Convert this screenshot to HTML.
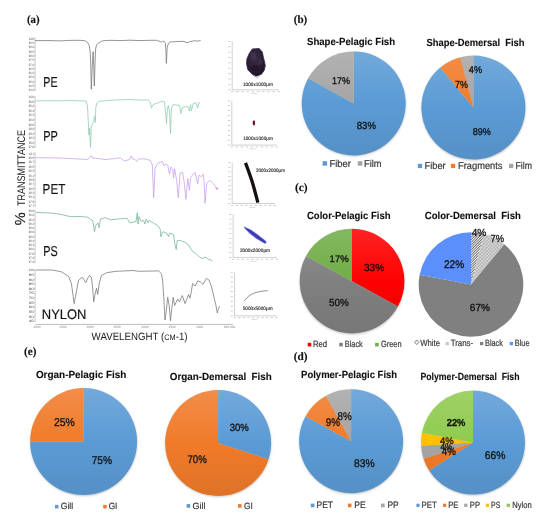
<!DOCTYPE html>
<html><head><meta charset="utf-8"><title>Microplastics figure</title>
<style>html,body{margin:0;padding:0;background:#fff;} svg{display:block;filter:blur(0.5px);text-rendering:geometricPrecision;}</style>
</head><body>
<svg width="550" height="521" viewBox="0 0 550 521"><defs>
<filter id="sh" x="-10%" y="-10%" width="120%" height="120%"><feGaussianBlur stdDeviation="0.8"/></filter>
<linearGradient id="shade" x1="0" y1="0" x2="0" y2="1">
  <stop offset="0" stop-color="#fff" stop-opacity="0.10"/>
  <stop offset="0.5" stop-color="#fff" stop-opacity="0.0"/>
  <stop offset="0.85" stop-color="#000" stop-opacity="0.03"/>
  <stop offset="1" stop-color="#000" stop-opacity="0.09"/>
</linearGradient>
<pattern id="hatch" patternUnits="userSpaceOnUse" width="1.8" height="1.8" patternTransform="rotate(45)">
  <rect width="1.8" height="1.8" fill="#f6f6f6"/>
  <rect width="0.6" height="1.8" fill="#2a2a2a"/>
</pattern>
<pattern id="dots" patternUnits="userSpaceOnUse" width="3.4" height="3.4">
  <rect width="3.4" height="3.4" fill="#b6b6b6"/>
  <circle cx="0.85" cy="0.85" r="0.7" fill="#ffffff"/>
  <circle cx="2.55" cy="2.55" r="0.7" fill="#ffffff"/>
</pattern>
<linearGradient id="g1" gradientUnits="userSpaceOnUse" x1="0" y1="51.400000000000006" x2="0" y2="155.4"><stop offset="0" stop-color="#72a9db"/><stop offset="0.5" stop-color="#5b9bd5"/><stop offset="1" stop-color="#5590c6"/></linearGradient><linearGradient id="g2" gradientUnits="userSpaceOnUse" x1="0" y1="51.400000000000006" x2="0" y2="155.4"><stop offset="0" stop-color="#b2b2b2"/><stop offset="0.5" stop-color="#a5a5a5"/><stop offset="1" stop-color="#999999"/></linearGradient><linearGradient id="g3" gradientUnits="userSpaceOnUse" x1="0" y1="55.5" x2="0" y2="159.5"><stop offset="0" stop-color="#72a9db"/><stop offset="0.5" stop-color="#5b9bd5"/><stop offset="1" stop-color="#5590c6"/></linearGradient><linearGradient id="g4" gradientUnits="userSpaceOnUse" x1="0" y1="55.5" x2="0" y2="159.5"><stop offset="0" stop-color="#f28d48"/><stop offset="0.5" stop-color="#f07b2a"/><stop offset="1" stop-color="#df7227"/></linearGradient><linearGradient id="g5" gradientUnits="userSpaceOnUse" x1="0" y1="55.5" x2="0" y2="159.5"><stop offset="0" stop-color="#b2b2b2"/><stop offset="0.5" stop-color="#a5a5a5"/><stop offset="1" stop-color="#999999"/></linearGradient><linearGradient id="g6" gradientUnits="userSpaceOnUse" x1="0" y1="228.79999999999998" x2="0" y2="333.59999999999997"><stop offset="0" stop-color="#ff2424"/><stop offset="0.5" stop-color="#ff0000"/><stop offset="1" stop-color="#ed0000"/></linearGradient><linearGradient id="g7" gradientUnits="userSpaceOnUse" x1="0" y1="228.79999999999998" x2="0" y2="333.59999999999997"><stop offset="0" stop-color="#929292"/><stop offset="0.5" stop-color="#808080"/><stop offset="1" stop-color="#777777"/></linearGradient><linearGradient id="g8" gradientUnits="userSpaceOnUse" x1="0" y1="228.79999999999998" x2="0" y2="333.59999999999997"><stop offset="0" stop-color="#84b861"/><stop offset="0.5" stop-color="#70ad47"/><stop offset="1" stop-color="#68a142"/></linearGradient><linearGradient id="g9" gradientUnits="userSpaceOnUse" x1="0" y1="388.1" x2="0" y2="495.1"><stop offset="0" stop-color="#72a9db"/><stop offset="0.5" stop-color="#5b9bd5"/><stop offset="1" stop-color="#5590c6"/></linearGradient><linearGradient id="g10" gradientUnits="userSpaceOnUse" x1="0" y1="388.1" x2="0" y2="495.1"><stop offset="0" stop-color="#f28d48"/><stop offset="0.5" stop-color="#f07b2a"/><stop offset="1" stop-color="#df7227"/></linearGradient><linearGradient id="g11" gradientUnits="userSpaceOnUse" x1="0" y1="390" x2="0" y2="496"><stop offset="0" stop-color="#72a9db"/><stop offset="0.5" stop-color="#5b9bd5"/><stop offset="1" stop-color="#5590c6"/></linearGradient><linearGradient id="g12" gradientUnits="userSpaceOnUse" x1="0" y1="390" x2="0" y2="496"><stop offset="0" stop-color="#f28d48"/><stop offset="0.5" stop-color="#f07b2a"/><stop offset="1" stop-color="#df7227"/></linearGradient><linearGradient id="g13" gradientUnits="userSpaceOnUse" x1="0" y1="389.2" x2="0" y2="493.2"><stop offset="0" stop-color="#72a9db"/><stop offset="0.5" stop-color="#5b9bd5"/><stop offset="1" stop-color="#5590c6"/></linearGradient><linearGradient id="g14" gradientUnits="userSpaceOnUse" x1="0" y1="389.2" x2="0" y2="493.2"><stop offset="0" stop-color="#f28d48"/><stop offset="0.5" stop-color="#f07b2a"/><stop offset="1" stop-color="#df7227"/></linearGradient><linearGradient id="g15" gradientUnits="userSpaceOnUse" x1="0" y1="389.2" x2="0" y2="493.2"><stop offset="0" stop-color="#b2b2b2"/><stop offset="0.5" stop-color="#a5a5a5"/><stop offset="1" stop-color="#999999"/></linearGradient><linearGradient id="g16" gradientUnits="userSpaceOnUse" x1="0" y1="390.6" x2="0" y2="494.6"><stop offset="0" stop-color="#72a9db"/><stop offset="0.5" stop-color="#5b9bd5"/><stop offset="1" stop-color="#5590c6"/></linearGradient><linearGradient id="g17" gradientUnits="userSpaceOnUse" x1="0" y1="390.6" x2="0" y2="494.6"><stop offset="0" stop-color="#f28d48"/><stop offset="0.5" stop-color="#f07b2a"/><stop offset="1" stop-color="#df7227"/></linearGradient><linearGradient id="g18" gradientUnits="userSpaceOnUse" x1="0" y1="390.6" x2="0" y2="494.6"><stop offset="0" stop-color="#b2b2b2"/><stop offset="0.5" stop-color="#a5a5a5"/><stop offset="1" stop-color="#999999"/></linearGradient><linearGradient id="g19" gradientUnits="userSpaceOnUse" x1="0" y1="390.6" x2="0" y2="494.6"><stop offset="0" stop-color="#ffc924"/><stop offset="0.5" stop-color="#ffc000"/><stop offset="1" stop-color="#edb300"/></linearGradient><linearGradient id="g20" gradientUnits="userSpaceOnUse" x1="0" y1="390.6" x2="0" y2="494.6"><stop offset="0" stop-color="#9fd267"/><stop offset="0.5" stop-color="#8fcb4e"/><stop offset="1" stop-color="#85bd49"/></linearGradient><radialGradient id="blob" cx="0.45" cy="0.35" r="0.7"><stop offset="0" stop-color="#3c2c48"/><stop offset="0.6" stop-color="#2a1d33"/><stop offset="1" stop-color="#1b1120"/></radialGradient></defs><rect width="550" height="521" fill="#fff"/><text x="26.9" y="22.8" font-family='"Liberation Serif", serif' font-size="11.3" font-weight="bold" fill="#111" text-anchor="start" textLength="12.7" lengthAdjust="spacingAndGlyphs" stroke="#111" stroke-width="0.15" >(a)</text>
<text x="293.8" y="23.2" font-family='"Liberation Serif", serif' font-size="11.3" font-weight="bold" fill="#111" text-anchor="start" textLength="13.5" lengthAdjust="spacingAndGlyphs" stroke="#111" stroke-width="0.15" >(b)</text>
<text x="294.9" y="190.5" font-family='"Liberation Serif", serif' font-size="11.3" font-weight="bold" fill="#111" text-anchor="start" textLength="12.7" lengthAdjust="spacingAndGlyphs" stroke="#111" stroke-width="0.15" >(c)</text>
<text x="24.0" y="355.1" font-family='"Liberation Serif", serif' font-size="11.3" font-weight="bold" fill="#111" text-anchor="start" textLength="12.4" lengthAdjust="spacingAndGlyphs" stroke="#111" stroke-width="0.15" >(e)</text>
<text x="293.8" y="359.9" font-family='"Liberation Serif", serif' font-size="11.3" font-weight="bold" fill="#111" text-anchor="start" textLength="13.7" lengthAdjust="spacingAndGlyphs" stroke="#111" stroke-width="0.15" >(d)</text>
<text x="307" y="45.1" font-family='"Liberation Sans", sans-serif' font-size="10.3" font-weight="bold" fill="#0e0e0e" text-anchor="start" textLength="88" lengthAdjust="spacingAndGlyphs" stroke="#0e0e0e" stroke-width="0.1" >Shape-Pelagic Fish</text>
<circle cx="353.9" cy="104.30000000000001" r="52" fill="#000" opacity="0.22" filter="url(#sh)"/>
<path d="M353.70,103.40 L353.70,51.40 A52,52 0 1 1 308.13,78.35 Z" fill="url(#g1)"/>
<path d="M353.70,103.40 L308.13,78.35 A52,52 0 0 1 353.70,51.40 Z" fill="url(#g2)"/>
<text x="426.5" y="46.2" font-family='"Liberation Sans", sans-serif' font-size="10.3" font-weight="bold" fill="#0e0e0e" text-anchor="start" textLength="98" lengthAdjust="spacingAndGlyphs" stroke="#0e0e0e" stroke-width="0.1" >Shape-Demersal&#160; Fish</text>
<circle cx="473.59999999999997" cy="108.4" r="52" fill="#000" opacity="0.22" filter="url(#sh)"/>
<path d="M473.40,107.50 L473.40,55.50 A52,52 0 1 1 440.25,67.43 Z" fill="url(#g3)"/>
<path d="M473.40,107.50 L440.25,67.43 A52,52 0 0 1 460.47,57.13 Z" fill="url(#g4)"/>
<path d="M473.40,107.50 L460.47,57.13 A52,52 0 0 1 473.40,55.50 Z" fill="url(#g5)"/>
<text x="307" y="219.0" font-family='"Liberation Sans", sans-serif' font-size="10.3" font-weight="bold" fill="#0e0e0e" text-anchor="start" textLength="83.5" lengthAdjust="spacingAndGlyphs" stroke="#0e0e0e" stroke-width="0.1" >Color-Pelagic Fish</text>
<circle cx="352.2" cy="282.09999999999997" r="52.4" fill="#000" opacity="0.22" filter="url(#sh)"/>
<path d="M352.00,281.20 L352.00,228.80 A52.4,52.4 0 0 1 397.92,306.44 Z" fill="url(#g6)"/>
<path d="M352.00,281.20 L397.92,306.44 A52.4,52.4 0 0 1 306.08,255.96 Z" fill="url(#g7)"/>
<path d="M352.00,281.20 L306.08,255.96 A52.4,52.4 0 0 1 352.00,228.80 Z" fill="url(#g8)"/>
<text x="424.8" y="219.0" font-family='"Liberation Sans", sans-serif' font-size="10.3" font-weight="bold" fill="#0e0e0e" text-anchor="start" textLength="96" lengthAdjust="spacingAndGlyphs" stroke="#0e0e0e" stroke-width="0.1" >Color-Demersal&#160; Fish</text>
<path d="M471.00,284.50 L471.00,232.20 A52.3,52.3 0 0 1 484.01,233.84 Z" fill="url(#hatch)"/>
<path d="M471.00,284.50 L484.01,233.84 A52.3,52.3 0 0 1 504.34,244.20 Z" fill="url(#dots)"/>
<path d="M471.00,284.50 L504.34,244.20 A52.3,52.3 0 1 1 419.63,274.70 Z" fill="#808080"/>
<path d="M471.00,284.50 L419.63,274.70 A52.3,52.3 0 0 1 471.00,232.20 Z" fill="#5b8ffb"/>
<text x="35.9" y="377.9" font-family='"Liberation Sans", sans-serif' font-size="10.3" font-weight="bold" fill="#0e0e0e" text-anchor="start" textLength="90.5" lengthAdjust="spacingAndGlyphs" stroke="#0e0e0e" stroke-width="0.1" >Organ-Pelagic Fish</text>
<circle cx="83.8" cy="442.5" r="53.5" fill="#000" opacity="0.22" filter="url(#sh)"/>
<path d="M83.60,441.60 L83.60,388.10 A53.5,53.5 0 1 1 30.10,441.60 Z" fill="url(#g9)"/>
<path d="M83.60,441.60 L30.10,441.60 A53.5,53.5 0 0 1 83.60,388.10 Z" fill="url(#g10)"/>
<text x="169.8" y="379.6" font-family='"Liberation Sans", sans-serif' font-size="10.3" font-weight="bold" fill="#0e0e0e" text-anchor="start" textLength="102" lengthAdjust="spacingAndGlyphs" stroke="#0e0e0e" stroke-width="0.1" >Organ-Demersal&#160; Fish</text>
<circle cx="218.29999999999998" cy="443.9" r="53" fill="#000" opacity="0.22" filter="url(#sh)"/>
<path d="M218.10,443.00 L218.10,390.00 A53,53 0 0 1 268.51,459.38 Z" fill="url(#g11)"/>
<path d="M218.10,443.00 L268.51,459.38 A53,53 0 1 1 218.10,390.00 Z" fill="url(#g12)"/>
<text x="301.1" y="378.3" font-family='"Liberation Sans", sans-serif' font-size="10.3" font-weight="bold" fill="#0e0e0e" text-anchor="start" textLength="96" lengthAdjust="spacingAndGlyphs" stroke="#0e0e0e" stroke-width="0.1" >Polymer-Pelagic Fish</text>
<circle cx="351.3" cy="442.09999999999997" r="52" fill="#000" opacity="0.22" filter="url(#sh)"/>
<path d="M351.10,441.20 L351.10,389.20 A52,52 0 1 1 305.53,416.15 Z" fill="url(#g13)"/>
<path d="M351.10,441.20 L305.53,416.15 A52,52 0 0 1 326.05,395.63 Z" fill="url(#g14)"/>
<path d="M351.10,441.20 L326.05,395.63 A52,52 0 0 1 351.10,389.20 Z" fill="url(#g15)"/>
<text x="420.5" y="379.6" font-family='"Liberation Sans", sans-serif' font-size="10.3" font-weight="bold" fill="#0e0e0e" text-anchor="start" textLength="99" lengthAdjust="spacingAndGlyphs" stroke="#0e0e0e" stroke-width="0.1" >Polymer-Demersal&#160; Fish</text>
<circle cx="473.2" cy="443.5" r="52" fill="#000" opacity="0.22" filter="url(#sh)"/>
<path d="M473.00,442.60 L473.00,390.60 A52,52 0 1 1 429.09,470.46 Z" fill="url(#g16)"/>
<path d="M473.00,442.60 L429.09,470.46 A52,52 0 0 1 423.55,458.67 Z" fill="url(#g17)"/>
<path d="M473.00,442.60 L423.55,458.67 A52,52 0 0 1 421.10,445.87 Z" fill="url(#g18)"/>
<path d="M473.00,442.60 L421.10,445.87 A52,52 0 0 1 421.92,432.86 Z" fill="url(#g19)"/>
<path d="M473.00,442.60 L421.92,432.86 A52,52 0 0 1 473.00,390.60 Z" fill="url(#g20)"/>
<text x="331.9" y="84.2" font-family='"Liberation Sans", sans-serif' font-size="9.73" font-weight="normal" fill="#121212" text-anchor="start" textLength="18.0" lengthAdjust="spacingAndGlyphs" stroke="#121212" stroke-width="0.3" >17%</text>
<text x="356.8" y="129.0" font-family='"Liberation Sans", sans-serif' font-size="10.27" font-weight="normal" fill="#121212" text-anchor="start" textLength="19.1" lengthAdjust="spacingAndGlyphs" stroke="#121212" stroke-width="0.3" >83%</text>
<text x="468.8" y="73.2" font-family='"Liberation Sans", sans-serif' font-size="10.0" font-weight="normal" fill="#121212" text-anchor="start" textLength="13.3" lengthAdjust="spacingAndGlyphs" stroke="#121212" stroke-width="0.3" >4%</text>
<text x="455.0" y="88.1" font-family='"Liberation Sans", sans-serif' font-size="10.27" font-weight="normal" fill="#121212" text-anchor="start" textLength="12.9" lengthAdjust="spacingAndGlyphs" stroke="#121212" stroke-width="0.3" >7%</text>
<text x="472.8" y="135.2" font-family='"Liberation Sans", sans-serif' font-size="9.86" font-weight="normal" fill="#121212" text-anchor="start" textLength="18.1" lengthAdjust="spacingAndGlyphs" stroke="#121212" stroke-width="0.3" >89%</text>
<text x="329.6" y="261.5" font-family='"Liberation Sans", sans-serif' font-size="9.59" font-weight="normal" fill="#121212" text-anchor="start" textLength="19.1" lengthAdjust="spacingAndGlyphs" stroke="#121212" stroke-width="0.3" >17%</text>
<text x="363.9" y="271.0" font-family='"Liberation Sans", sans-serif' font-size="10.27" font-weight="normal" fill="#200000" text-anchor="start" textLength="20.3" lengthAdjust="spacingAndGlyphs" stroke="#200000" stroke-width="0.3" >33%</text>
<text x="329.0" y="306.4" font-family='"Liberation Sans", sans-serif' font-size="10.27" font-weight="normal" fill="#121212" text-anchor="start" textLength="19.8" lengthAdjust="spacingAndGlyphs" stroke="#121212" stroke-width="0.3" >50%</text>
<text x="471.7" y="235.8" font-family='"Liberation Sans", sans-serif' font-size="10.27" font-weight="normal" fill="#121212" text-anchor="start" textLength="14.7" lengthAdjust="spacingAndGlyphs" stroke="#121212" stroke-width="0.3" >4%</text>
<text x="490.5" y="242.3" font-family='"Liberation Sans", sans-serif' font-size="10.27" font-weight="normal" fill="#121212" text-anchor="start" textLength="13.6" lengthAdjust="spacingAndGlyphs" stroke="#121212" stroke-width="0.3" >7%</text>
<text x="444.0" y="267.5" font-family='"Liberation Sans", sans-serif' font-size="11.1" font-weight="normal" fill="#121212" text-anchor="start" textLength="20.1" lengthAdjust="spacingAndGlyphs" stroke="#121212" stroke-width="0.3" >22%</text>
<text x="469.8" y="311.4" font-family='"Liberation Sans", sans-serif' font-size="10.27" font-weight="normal" fill="#121212" text-anchor="start" textLength="20.1" lengthAdjust="spacingAndGlyphs" stroke="#121212" stroke-width="0.3" >67%</text>
<text x="54.0" y="426.2" font-family='"Liberation Sans", sans-serif' font-size="11.37" font-weight="normal" fill="#121212" text-anchor="start" textLength="20.9" lengthAdjust="spacingAndGlyphs" stroke="#121212" stroke-width="0.3" >25%</text>
<text x="91.7" y="463.7" font-family='"Liberation Sans", sans-serif' font-size="11.37" font-weight="normal" fill="#121212" text-anchor="start" textLength="20.4" lengthAdjust="spacingAndGlyphs" stroke="#121212" stroke-width="0.3" >75%</text>
<text x="229.7" y="430.7" font-family='"Liberation Sans", sans-serif' font-size="10.41" font-weight="normal" fill="#121212" text-anchor="start" textLength="19.1" lengthAdjust="spacingAndGlyphs" stroke="#121212" stroke-width="0.3" >30%</text>
<text x="187.5" y="462.5" font-family='"Liberation Sans", sans-serif' font-size="11.1" font-weight="normal" fill="#121212" text-anchor="start" textLength="19.3" lengthAdjust="spacingAndGlyphs" stroke="#121212" stroke-width="0.3" >70%</text>
<text x="337.5" y="419.5" font-family='"Liberation Sans", sans-serif' font-size="11.23" font-weight="normal" fill="#121212" text-anchor="start" textLength="14.2" lengthAdjust="spacingAndGlyphs" stroke="#121212" stroke-width="0.3" >8%</text>
<text x="325.7" y="425.8" font-family='"Liberation Sans", sans-serif' font-size="11.1" font-weight="normal" fill="#121212" text-anchor="start" textLength="14.2" lengthAdjust="spacingAndGlyphs" stroke="#121212" stroke-width="0.3" >9%</text>
<text x="354.0" y="466.8" font-family='"Liberation Sans", sans-serif' font-size="11.23" font-weight="normal" fill="#121212" text-anchor="start" textLength="20.6" lengthAdjust="spacingAndGlyphs" stroke="#121212" stroke-width="0.3" >83%</text>
<text x="446.7" y="426.1" font-family='"Liberation Sans", sans-serif' font-size="10.14" font-weight="bold" fill="#111" text-anchor="start" textLength="18.7" lengthAdjust="spacingAndGlyphs" stroke="#111" stroke-width="0.3" >22%</text>
<text x="440.0" y="443.7" font-family='"Liberation Sans", sans-serif' font-size="9.59" font-weight="normal" fill="#121212" text-anchor="start" textLength="13.7" lengthAdjust="spacingAndGlyphs" stroke="#121212" stroke-width="0.3" >4%</text>
<text x="440.4" y="449.6" font-family='"Liberation Sans", sans-serif' font-size="9.59" font-weight="normal" fill="#121212" text-anchor="start" textLength="11.9" lengthAdjust="spacingAndGlyphs" stroke="#121212" stroke-width="0.3" >4%</text>
<text x="441.8" y="455.4" font-family='"Liberation Sans", sans-serif' font-size="10.68" font-weight="normal" fill="#121212" text-anchor="start" textLength="14.1" lengthAdjust="spacingAndGlyphs" stroke="#121212" stroke-width="0.3" >4%</text>
<text x="484.8" y="458.8" font-family='"Liberation Sans", sans-serif' font-size="11.1" font-weight="normal" fill="#121212" text-anchor="start" textLength="20.7" lengthAdjust="spacingAndGlyphs" stroke="#121212" stroke-width="0.3" >66%</text>
<rect x="322.6" y="161.2" width="4.5" height="4.5" fill="#5b9bd5"/>
<text x="329.5" y="166.5" font-family='"Liberation Sans", sans-serif' font-size="10" font-weight="normal" fill="#383838" text-anchor="start" textLength="21.5" lengthAdjust="spacingAndGlyphs" stroke="#383838" stroke-width="0.2" >Fiber</text>
<rect x="357.8" y="161.2" width="4.5" height="4.5" fill="#a5a5a5"/>
<text x="364" y="166.5" font-family='"Liberation Sans", sans-serif' font-size="10" font-weight="normal" fill="#383838" text-anchor="start" textLength="17.5" lengthAdjust="spacingAndGlyphs" stroke="#383838" stroke-width="0.2" >Film</text>
<rect x="417.8" y="163.79999999999998" width="4.3" height="4.3" fill="#5b9bd5"/>
<text x="424.5" y="168.9" font-family='"Liberation Sans", sans-serif' font-size="10" font-weight="normal" fill="#383838" text-anchor="start" textLength="21.2" lengthAdjust="spacingAndGlyphs" stroke="#383838" stroke-width="0.2" >Fiber</text>
<rect x="450.9" y="163.79999999999998" width="4.3" height="4.3" fill="#f07b2a"/>
<text x="458" y="168.9" font-family='"Liberation Sans", sans-serif' font-size="10" font-weight="normal" fill="#383838" text-anchor="start" textLength="44.5" lengthAdjust="spacingAndGlyphs" stroke="#383838" stroke-width="0.2" >Fragments</text>
<rect x="509" y="163.79999999999998" width="4.3" height="4.3" fill="#a5a5a5"/>
<text x="515.5" y="168.9" font-family='"Liberation Sans", sans-serif' font-size="10" font-weight="normal" fill="#383838" text-anchor="start" textLength="16.5" lengthAdjust="spacingAndGlyphs" stroke="#383838" stroke-width="0.2" >Film</text>
<rect x="307.7" y="342.79999999999995" width="3.6" height="3.6" fill="#ff0000"/>
<text x="312.9" y="347.2" font-family='"Liberation Sans", sans-serif' font-size="9" font-weight="normal" fill="#383838" text-anchor="start" textLength="14.2" lengthAdjust="spacingAndGlyphs" stroke="#383838" stroke-width="0.2" >Red</text>
<rect x="339.2" y="342.79999999999995" width="3.6" height="3.6" fill="#808080"/>
<text x="344.8" y="347.2" font-family='"Liberation Sans", sans-serif' font-size="9" font-weight="normal" fill="#383838" text-anchor="start" textLength="18" lengthAdjust="spacingAndGlyphs" stroke="#383838" stroke-width="0.2" >Black</text>
<rect x="375.1" y="342.79999999999995" width="3.6" height="3.6" fill="#70ad47"/>
<text x="381" y="347.2" font-family='"Liberation Sans", sans-serif' font-size="9" font-weight="normal" fill="#383838" text-anchor="start" textLength="20.6" lengthAdjust="spacingAndGlyphs" stroke="#383838" stroke-width="0.2" >Green</text>
<path d="M416.8,340.0 l2.3,2.3 l-2.3,2.3 l-2.3,-2.3 z" fill="#eee" stroke="#555" stroke-width="0.7"/>
<text x="420.2" y="346.0" font-family='"Liberation Sans", sans-serif' font-size="9" font-weight="normal" fill="#383838" text-anchor="start" textLength="19.8" lengthAdjust="spacingAndGlyphs" stroke="#383838" stroke-width="0.2" >White</text>
<rect x="445.6" y="341.9" width="3.3" height="3.3" fill="#c8c8c8"/>
<text x="450.7" y="346.0" font-family='"Liberation Sans", sans-serif' font-size="9" font-weight="normal" fill="#383838" text-anchor="start" textLength="22.4" lengthAdjust="spacingAndGlyphs" stroke="#383838" stroke-width="0.2" >Trans-</text>
<rect x="480" y="341.9" width="3.3" height="3.3" fill="#808080"/>
<text x="485" y="346.0" font-family='"Liberation Sans", sans-serif' font-size="9" font-weight="normal" fill="#383838" text-anchor="start" textLength="17.9" lengthAdjust="spacingAndGlyphs" stroke="#383838" stroke-width="0.2" >Black</text>
<rect x="509.7" y="341.9" width="3.3" height="3.3" fill="#5b8ffb"/>
<text x="514.8" y="346.0" font-family='"Liberation Sans", sans-serif' font-size="9" font-weight="normal" fill="#383838" text-anchor="start" textLength="14.8" lengthAdjust="spacingAndGlyphs" stroke="#383838" stroke-width="0.2" >Blue</text>
<rect x="55" y="504.9" width="3.5" height="3.5" fill="#5b9bd5"/>
<text x="60.7" y="509.2" font-family='"Liberation Sans", sans-serif' font-size="9" font-weight="normal" fill="#383838" text-anchor="start" textLength="12.5" lengthAdjust="spacingAndGlyphs" stroke="#383838" stroke-width="0.2" >Gill</text>
<rect x="103.2" y="504.9" width="3.5" height="3.5" fill="#f07b2a"/>
<text x="108.7" y="509.2" font-family='"Liberation Sans", sans-serif' font-size="9" font-weight="normal" fill="#383838" text-anchor="start" textLength="8.7" lengthAdjust="spacingAndGlyphs" stroke="#383838" stroke-width="0.2" >GI</text>
<rect x="186.6" y="504.09999999999997" width="3.6" height="3.6" fill="#5b9bd5"/>
<text x="192.6" y="508.5" font-family='"Liberation Sans", sans-serif' font-size="9" font-weight="normal" fill="#383838" text-anchor="start" textLength="13" lengthAdjust="spacingAndGlyphs" stroke="#383838" stroke-width="0.2" >Gill</text>
<rect x="238" y="504.09999999999997" width="3.6" height="3.6" fill="#f07b2a"/>
<text x="244" y="508.5" font-family='"Liberation Sans", sans-serif' font-size="9" font-weight="normal" fill="#383838" text-anchor="start" textLength="8.8" lengthAdjust="spacingAndGlyphs" stroke="#383838" stroke-width="0.2" >GI</text>
<rect x="310.8" y="503.59999999999997" width="3.6" height="3.6" fill="#5b9bd5"/>
<text x="316.5" y="508" font-family='"Liberation Sans", sans-serif' font-size="9.5" font-weight="normal" fill="#383838" text-anchor="start" textLength="16.5" lengthAdjust="spacingAndGlyphs" stroke="#383838" stroke-width="0.2" >PET</text>
<rect x="347.9" y="503.59999999999997" width="3.6" height="3.6" fill="#f07b2a"/>
<text x="354.3" y="508" font-family='"Liberation Sans", sans-serif' font-size="9.5" font-weight="normal" fill="#383838" text-anchor="start" textLength="11.4" lengthAdjust="spacingAndGlyphs" stroke="#383838" stroke-width="0.2" >PE</text>
<rect x="381" y="503.59999999999997" width="3.6" height="3.6" fill="#a5a5a5"/>
<text x="387.4" y="508" font-family='"Liberation Sans", sans-serif' font-size="9.5" font-weight="normal" fill="#383838" text-anchor="start" textLength="11.3" lengthAdjust="spacingAndGlyphs" stroke="#383838" stroke-width="0.2" >PP</text>
<rect x="416.4" y="503.7" width="3.2" height="3.2" fill="#5b9bd5"/>
<text x="421.5" y="507.7" font-family='"Liberation Sans", sans-serif' font-size="9" font-weight="normal" fill="#383838" text-anchor="start" textLength="15.2" lengthAdjust="spacingAndGlyphs" stroke="#383838" stroke-width="0.2" >PET</text>
<rect x="443" y="503.7" width="3.2" height="3.2" fill="#f07b2a"/>
<text x="448.2" y="507.7" font-family='"Liberation Sans", sans-serif' font-size="9" font-weight="normal" fill="#383838" text-anchor="start" textLength="10.1" lengthAdjust="spacingAndGlyphs" stroke="#383838" stroke-width="0.2" >PE</text>
<rect x="464.2" y="503.7" width="3.2" height="3.2" fill="#a5a5a5"/>
<text x="469.8" y="507.7" font-family='"Liberation Sans", sans-serif' font-size="9" font-weight="normal" fill="#383838" text-anchor="start" textLength="10.2" lengthAdjust="spacingAndGlyphs" stroke="#383838" stroke-width="0.2" >PP</text>
<rect x="485.8" y="503.7" width="3.2" height="3.2" fill="#ffc000"/>
<text x="491" y="507.7" font-family='"Liberation Sans", sans-serif' font-size="9" font-weight="normal" fill="#383838" text-anchor="start" textLength="9.3" lengthAdjust="spacingAndGlyphs" stroke="#383838" stroke-width="0.2" >PS</text>
<rect x="506.7" y="503.7" width="3.2" height="3.2" fill="#8ac84a"/>
<text x="512.3" y="507.7" font-family='"Liberation Sans", sans-serif' font-size="9" font-weight="normal" fill="#383838" text-anchor="start" textLength="19.3" lengthAdjust="spacingAndGlyphs" stroke="#383838" stroke-width="0.2" >Nylon</text>
<text x="33.9" y="39.7" font-family='"Liberation Sans", sans-serif' font-size="3.4" fill="#4a4a4a" text-anchor="end" textLength="5.2" lengthAdjust="spacingAndGlyphs">100</text>
<rect x="34.099999999999994" y="38.2" width="1" height="0.5" fill="#999"/>
<text x="33.9" y="44.0" font-family='"Liberation Sans", sans-serif' font-size="3.4" fill="#4a4a4a" text-anchor="end" textLength="5.2" lengthAdjust="spacingAndGlyphs">99.5</text>
<rect x="34.099999999999994" y="42.5" width="1" height="0.5" fill="#999"/>
<text x="33.9" y="48.3" font-family='"Liberation Sans", sans-serif' font-size="3.4" fill="#4a4a4a" text-anchor="end" textLength="5.2" lengthAdjust="spacingAndGlyphs">99.0</text>
<rect x="34.099999999999994" y="46.8" width="1" height="0.5" fill="#999"/>
<text x="33.9" y="52.6" font-family='"Liberation Sans", sans-serif' font-size="3.4" fill="#4a4a4a" text-anchor="end" textLength="5.2" lengthAdjust="spacingAndGlyphs">98.5</text>
<rect x="34.099999999999994" y="51.1" width="1" height="0.5" fill="#999"/>
<text x="33.9" y="56.9" font-family='"Liberation Sans", sans-serif' font-size="3.4" fill="#4a4a4a" text-anchor="end" textLength="5.2" lengthAdjust="spacingAndGlyphs">98.0</text>
<rect x="34.099999999999994" y="55.4" width="1" height="0.5" fill="#999"/>
<text x="33.9" y="61.2" font-family='"Liberation Sans", sans-serif' font-size="3.4" fill="#4a4a4a" text-anchor="end" textLength="5.2" lengthAdjust="spacingAndGlyphs">97.5</text>
<rect x="34.099999999999994" y="59.7" width="1" height="0.5" fill="#999"/>
<text x="33.9" y="65.5" font-family='"Liberation Sans", sans-serif' font-size="3.4" fill="#4a4a4a" text-anchor="end" textLength="5.2" lengthAdjust="spacingAndGlyphs">97.0</text>
<rect x="34.099999999999994" y="64.0" width="1" height="0.5" fill="#999"/>
<text x="33.9" y="69.7" font-family='"Liberation Sans", sans-serif' font-size="3.4" fill="#4a4a4a" text-anchor="end" textLength="5.2" lengthAdjust="spacingAndGlyphs">96.5</text>
<rect x="34.099999999999994" y="68.3" width="1" height="0.5" fill="#999"/>
<text x="33.9" y="74.0" font-family='"Liberation Sans", sans-serif' font-size="3.4" fill="#4a4a4a" text-anchor="end" textLength="5.2" lengthAdjust="spacingAndGlyphs">96.0</text>
<rect x="34.099999999999994" y="72.6" width="1" height="0.5" fill="#999"/>
<text x="33.9" y="78.3" font-family='"Liberation Sans", sans-serif' font-size="3.4" fill="#4a4a4a" text-anchor="end" textLength="5.2" lengthAdjust="spacingAndGlyphs">95.5</text>
<rect x="34.099999999999994" y="76.9" width="1" height="0.5" fill="#999"/>
<text x="33.9" y="82.6" font-family='"Liberation Sans", sans-serif' font-size="3.4" fill="#4a4a4a" text-anchor="end" textLength="5.2" lengthAdjust="spacingAndGlyphs">95.0</text>
<rect x="34.099999999999994" y="81.2" width="1" height="0.5" fill="#999"/>
<text x="33.9" y="86.9" font-family='"Liberation Sans", sans-serif' font-size="3.4" fill="#4a4a4a" text-anchor="end" textLength="5.2" lengthAdjust="spacingAndGlyphs">94.5</text>
<rect x="34.099999999999994" y="85.5" width="1" height="0.5" fill="#999"/>
<text x="33.9" y="91.2" font-family='"Liberation Sans", sans-serif' font-size="3.4" fill="#4a4a4a" text-anchor="end" textLength="5.2" lengthAdjust="spacingAndGlyphs">94.0</text>
<rect x="34.099999999999994" y="89.8" width="1" height="0.5" fill="#999"/>
<line x1="35.099999999999994" y1="37.5" x2="35.099999999999994" y2="91" stroke="#a8a8a8" stroke-width="0.6"/>
<text x="33.9" y="98.2" font-family='"Liberation Sans", sans-serif' font-size="3.4" fill="#4a4a4a" text-anchor="end" textLength="5.2" lengthAdjust="spacingAndGlyphs">100</text>
<rect x="34.099999999999994" y="96.8" width="1" height="0.5" fill="#999"/>
<text x="33.9" y="102.7" font-family='"Liberation Sans", sans-serif' font-size="3.4" fill="#4a4a4a" text-anchor="end" textLength="5.2" lengthAdjust="spacingAndGlyphs">99.8</text>
<rect x="34.099999999999994" y="101.3" width="1" height="0.5" fill="#999"/>
<text x="33.9" y="107.3" font-family='"Liberation Sans", sans-serif' font-size="3.4" fill="#4a4a4a" text-anchor="end" textLength="5.2" lengthAdjust="spacingAndGlyphs">99.6</text>
<rect x="34.099999999999994" y="105.8" width="1" height="0.5" fill="#999"/>
<text x="33.9" y="111.8" font-family='"Liberation Sans", sans-serif' font-size="3.4" fill="#4a4a4a" text-anchor="end" textLength="5.2" lengthAdjust="spacingAndGlyphs">99.4</text>
<rect x="34.099999999999994" y="110.4" width="1" height="0.5" fill="#999"/>
<text x="33.9" y="116.4" font-family='"Liberation Sans", sans-serif' font-size="3.4" fill="#4a4a4a" text-anchor="end" textLength="5.2" lengthAdjust="spacingAndGlyphs">99.2</text>
<rect x="34.099999999999994" y="114.9" width="1" height="0.5" fill="#999"/>
<text x="33.9" y="120.9" font-family='"Liberation Sans", sans-serif' font-size="3.4" fill="#4a4a4a" text-anchor="end" textLength="5.2" lengthAdjust="spacingAndGlyphs">99.0</text>
<rect x="34.099999999999994" y="119.5" width="1" height="0.5" fill="#999"/>
<text x="33.9" y="125.5" font-family='"Liberation Sans", sans-serif' font-size="3.4" fill="#4a4a4a" text-anchor="end" textLength="5.2" lengthAdjust="spacingAndGlyphs">98.8</text>
<rect x="34.099999999999994" y="124.0" width="1" height="0.5" fill="#999"/>
<text x="33.9" y="130.0" font-family='"Liberation Sans", sans-serif' font-size="3.4" fill="#4a4a4a" text-anchor="end" textLength="5.2" lengthAdjust="spacingAndGlyphs">98.6</text>
<rect x="34.099999999999994" y="128.6" width="1" height="0.5" fill="#999"/>
<text x="33.9" y="134.6" font-family='"Liberation Sans", sans-serif' font-size="3.4" fill="#4a4a4a" text-anchor="end" textLength="5.2" lengthAdjust="spacingAndGlyphs">98.4</text>
<rect x="34.099999999999994" y="133.1" width="1" height="0.5" fill="#999"/>
<text x="33.9" y="139.1" font-family='"Liberation Sans", sans-serif' font-size="3.4" fill="#4a4a4a" text-anchor="end" textLength="5.2" lengthAdjust="spacingAndGlyphs">98.2</text>
<rect x="34.099999999999994" y="137.7" width="1" height="0.5" fill="#999"/>
<text x="33.9" y="143.7" font-family='"Liberation Sans", sans-serif' font-size="3.4" fill="#4a4a4a" text-anchor="end" textLength="5.2" lengthAdjust="spacingAndGlyphs">98.0</text>
<rect x="34.099999999999994" y="142.2" width="1" height="0.5" fill="#999"/>
<text x="33.9" y="148.2" font-family='"Liberation Sans", sans-serif' font-size="3.4" fill="#4a4a4a" text-anchor="end" textLength="5.2" lengthAdjust="spacingAndGlyphs">97.8</text>
<rect x="34.099999999999994" y="146.8" width="1" height="0.5" fill="#999"/>
<line x1="35.099999999999994" y1="96" x2="35.099999999999994" y2="148" stroke="#a8a8a8" stroke-width="0.6"/>
<text x="33.9" y="154.5" font-family='"Liberation Sans", sans-serif' font-size="3.4" fill="#4a4a4a" text-anchor="end" textLength="5.2" lengthAdjust="spacingAndGlyphs">100.1</text>
<rect x="34.099999999999994" y="153.1" width="1" height="0.5" fill="#999"/>
<text x="33.9" y="158.9" font-family='"Liberation Sans", sans-serif' font-size="3.4" fill="#4a4a4a" text-anchor="end" textLength="5.2" lengthAdjust="spacingAndGlyphs">99.9</text>
<rect x="34.099999999999994" y="157.4" width="1" height="0.5" fill="#999"/>
<text x="33.9" y="163.3" font-family='"Liberation Sans", sans-serif' font-size="3.4" fill="#4a4a4a" text-anchor="end" textLength="5.2" lengthAdjust="spacingAndGlyphs">99.7</text>
<rect x="34.099999999999994" y="161.8" width="1" height="0.5" fill="#999"/>
<text x="33.9" y="167.7" font-family='"Liberation Sans", sans-serif' font-size="3.4" fill="#4a4a4a" text-anchor="end" textLength="5.2" lengthAdjust="spacingAndGlyphs">99.5</text>
<rect x="34.099999999999994" y="166.2" width="1" height="0.5" fill="#999"/>
<text x="33.9" y="172.1" font-family='"Liberation Sans", sans-serif' font-size="3.4" fill="#4a4a4a" text-anchor="end" textLength="5.2" lengthAdjust="spacingAndGlyphs">99.3</text>
<rect x="34.099999999999994" y="170.6" width="1" height="0.5" fill="#999"/>
<text x="33.9" y="176.5" font-family='"Liberation Sans", sans-serif' font-size="3.4" fill="#4a4a4a" text-anchor="end" textLength="5.2" lengthAdjust="spacingAndGlyphs">99.1</text>
<rect x="34.099999999999994" y="175.0" width="1" height="0.5" fill="#999"/>
<text x="33.9" y="180.8" font-family='"Liberation Sans", sans-serif' font-size="3.4" fill="#4a4a4a" text-anchor="end" textLength="5.2" lengthAdjust="spacingAndGlyphs">98.9</text>
<rect x="34.099999999999994" y="179.4" width="1" height="0.5" fill="#999"/>
<text x="33.9" y="185.2" font-family='"Liberation Sans", sans-serif' font-size="3.4" fill="#4a4a4a" text-anchor="end" textLength="5.2" lengthAdjust="spacingAndGlyphs">98.7</text>
<rect x="34.099999999999994" y="183.8" width="1" height="0.5" fill="#999"/>
<text x="33.9" y="189.6" font-family='"Liberation Sans", sans-serif' font-size="3.4" fill="#4a4a4a" text-anchor="end" textLength="5.2" lengthAdjust="spacingAndGlyphs">98.5</text>
<rect x="34.099999999999994" y="188.2" width="1" height="0.5" fill="#999"/>
<text x="33.9" y="194.0" font-family='"Liberation Sans", sans-serif' font-size="3.4" fill="#4a4a4a" text-anchor="end" textLength="5.2" lengthAdjust="spacingAndGlyphs">98.3</text>
<rect x="34.099999999999994" y="192.6" width="1" height="0.5" fill="#999"/>
<text x="33.9" y="198.4" font-family='"Liberation Sans", sans-serif' font-size="3.4" fill="#4a4a4a" text-anchor="end" textLength="5.2" lengthAdjust="spacingAndGlyphs">98.1</text>
<rect x="34.099999999999994" y="197.0" width="1" height="0.5" fill="#999"/>
<text x="33.9" y="202.8" font-family='"Liberation Sans", sans-serif' font-size="3.4" fill="#4a4a4a" text-anchor="end" textLength="5.2" lengthAdjust="spacingAndGlyphs">97.9</text>
<rect x="34.099999999999994" y="201.4" width="1" height="0.5" fill="#999"/>
<text x="33.9" y="207.2" font-family='"Liberation Sans", sans-serif' font-size="3.4" fill="#4a4a4a" text-anchor="end" textLength="5.2" lengthAdjust="spacingAndGlyphs">97.7</text>
<rect x="34.099999999999994" y="205.8" width="1" height="0.5" fill="#999"/>
<line x1="35.099999999999994" y1="152.3" x2="35.099999999999994" y2="207" stroke="#a8a8a8" stroke-width="0.6"/>
<text x="33.9" y="212.0" font-family='"Liberation Sans", sans-serif' font-size="3.4" fill="#4a4a4a" text-anchor="end" textLength="5.2" lengthAdjust="spacingAndGlyphs">99.8</text>
<rect x="34.099999999999994" y="210.6" width="1" height="0.5" fill="#999"/>
<text x="33.9" y="216.3" font-family='"Liberation Sans", sans-serif' font-size="3.4" fill="#4a4a4a" text-anchor="end" textLength="5.2" lengthAdjust="spacingAndGlyphs">99.6</text>
<rect x="34.099999999999994" y="214.8" width="1" height="0.5" fill="#999"/>
<text x="33.9" y="220.5" font-family='"Liberation Sans", sans-serif' font-size="3.4" fill="#4a4a4a" text-anchor="end" textLength="5.2" lengthAdjust="spacingAndGlyphs">99.4</text>
<rect x="34.099999999999994" y="219.1" width="1" height="0.5" fill="#999"/>
<text x="33.9" y="224.8" font-family='"Liberation Sans", sans-serif' font-size="3.4" fill="#4a4a4a" text-anchor="end" textLength="5.2" lengthAdjust="spacingAndGlyphs">99.2</text>
<rect x="34.099999999999994" y="223.4" width="1" height="0.5" fill="#999"/>
<text x="33.9" y="229.1" font-family='"Liberation Sans", sans-serif' font-size="3.4" fill="#4a4a4a" text-anchor="end" textLength="5.2" lengthAdjust="spacingAndGlyphs">99.0</text>
<rect x="34.099999999999994" y="227.6" width="1" height="0.5" fill="#999"/>
<text x="33.9" y="233.3" font-family='"Liberation Sans", sans-serif' font-size="3.4" fill="#4a4a4a" text-anchor="end" textLength="5.2" lengthAdjust="spacingAndGlyphs">98.8</text>
<rect x="34.099999999999994" y="231.9" width="1" height="0.5" fill="#999"/>
<text x="33.9" y="237.6" font-family='"Liberation Sans", sans-serif' font-size="3.4" fill="#4a4a4a" text-anchor="end" textLength="5.2" lengthAdjust="spacingAndGlyphs">98.6</text>
<rect x="34.099999999999994" y="236.2" width="1" height="0.5" fill="#999"/>
<text x="33.9" y="241.9" font-family='"Liberation Sans", sans-serif' font-size="3.4" fill="#4a4a4a" text-anchor="end" textLength="5.2" lengthAdjust="spacingAndGlyphs">98.4</text>
<rect x="34.099999999999994" y="240.4" width="1" height="0.5" fill="#999"/>
<text x="33.9" y="246.1" font-family='"Liberation Sans", sans-serif' font-size="3.4" fill="#4a4a4a" text-anchor="end" textLength="5.2" lengthAdjust="spacingAndGlyphs">98.2</text>
<rect x="34.099999999999994" y="244.7" width="1" height="0.5" fill="#999"/>
<text x="33.9" y="250.4" font-family='"Liberation Sans", sans-serif' font-size="3.4" fill="#4a4a4a" text-anchor="end" textLength="5.2" lengthAdjust="spacingAndGlyphs">98.0</text>
<rect x="34.099999999999994" y="248.9" width="1" height="0.5" fill="#999"/>
<text x="33.9" y="254.7" font-family='"Liberation Sans", sans-serif' font-size="3.4" fill="#4a4a4a" text-anchor="end" textLength="5.2" lengthAdjust="spacingAndGlyphs">97.8</text>
<rect x="34.099999999999994" y="253.2" width="1" height="0.5" fill="#999"/>
<text x="33.9" y="258.9" font-family='"Liberation Sans", sans-serif' font-size="3.4" fill="#4a4a4a" text-anchor="end" textLength="5.2" lengthAdjust="spacingAndGlyphs">97.6</text>
<rect x="34.099999999999994" y="257.5" width="1" height="0.5" fill="#999"/>
<text x="33.9" y="263.2" font-family='"Liberation Sans", sans-serif' font-size="3.4" fill="#4a4a4a" text-anchor="end" textLength="5.2" lengthAdjust="spacingAndGlyphs">97.4</text>
<rect x="34.099999999999994" y="261.8" width="1" height="0.5" fill="#999"/>
<line x1="35.099999999999994" y1="209.8" x2="35.099999999999994" y2="263" stroke="#a8a8a8" stroke-width="0.6"/>
<text x="33.9" y="271.2" font-family='"Liberation Sans", sans-serif' font-size="3.4" fill="#4a4a4a" text-anchor="end" textLength="5.2" lengthAdjust="spacingAndGlyphs">100</text>
<rect x="34.099999999999994" y="269.8" width="1" height="0.5" fill="#999"/>
<text x="33.9" y="275.8" font-family='"Liberation Sans", sans-serif' font-size="3.4" fill="#4a4a4a" text-anchor="end" textLength="5.2" lengthAdjust="spacingAndGlyphs">95</text>
<rect x="34.099999999999994" y="274.4" width="1" height="0.5" fill="#999"/>
<text x="33.9" y="280.5" font-family='"Liberation Sans", sans-serif' font-size="3.4" fill="#4a4a4a" text-anchor="end" textLength="5.2" lengthAdjust="spacingAndGlyphs">90</text>
<rect x="34.099999999999994" y="279.0" width="1" height="0.5" fill="#999"/>
<text x="33.9" y="285.1" font-family='"Liberation Sans", sans-serif' font-size="3.4" fill="#4a4a4a" text-anchor="end" textLength="5.2" lengthAdjust="spacingAndGlyphs">85</text>
<rect x="34.099999999999994" y="283.7" width="1" height="0.5" fill="#999"/>
<text x="33.9" y="289.7" font-family='"Liberation Sans", sans-serif' font-size="3.4" fill="#4a4a4a" text-anchor="end" textLength="5.2" lengthAdjust="spacingAndGlyphs">80</text>
<rect x="34.099999999999994" y="288.3" width="1" height="0.5" fill="#999"/>
<text x="33.9" y="294.4" font-family='"Liberation Sans", sans-serif' font-size="3.4" fill="#4a4a4a" text-anchor="end" textLength="5.2" lengthAdjust="spacingAndGlyphs">75</text>
<rect x="34.099999999999994" y="292.9" width="1" height="0.5" fill="#999"/>
<text x="33.9" y="299.0" font-family='"Liberation Sans", sans-serif' font-size="3.4" fill="#4a4a4a" text-anchor="end" textLength="5.2" lengthAdjust="spacingAndGlyphs">70</text>
<rect x="34.099999999999994" y="297.6" width="1" height="0.5" fill="#999"/>
<text x="33.9" y="303.7" font-family='"Liberation Sans", sans-serif' font-size="3.4" fill="#4a4a4a" text-anchor="end" textLength="5.2" lengthAdjust="spacingAndGlyphs">65</text>
<rect x="34.099999999999994" y="302.2" width="1" height="0.5" fill="#999"/>
<text x="33.9" y="308.3" font-family='"Liberation Sans", sans-serif' font-size="3.4" fill="#4a4a4a" text-anchor="end" textLength="5.2" lengthAdjust="spacingAndGlyphs">60</text>
<rect x="34.099999999999994" y="306.8" width="1" height="0.5" fill="#999"/>
<text x="33.9" y="312.9" font-family='"Liberation Sans", sans-serif' font-size="3.4" fill="#4a4a4a" text-anchor="end" textLength="5.2" lengthAdjust="spacingAndGlyphs">55</text>
<rect x="34.099999999999994" y="311.5" width="1" height="0.5" fill="#999"/>
<text x="33.9" y="317.6" font-family='"Liberation Sans", sans-serif' font-size="3.4" fill="#4a4a4a" text-anchor="end" textLength="5.2" lengthAdjust="spacingAndGlyphs">50</text>
<rect x="34.099999999999994" y="316.1" width="1" height="0.5" fill="#999"/>
<text x="33.9" y="322.2" font-family='"Liberation Sans", sans-serif' font-size="3.4" fill="#4a4a4a" text-anchor="end" textLength="5.2" lengthAdjust="spacingAndGlyphs">45</text>
<rect x="34.099999999999994" y="320.8" width="1" height="0.5" fill="#999"/>
<line x1="35.099999999999994" y1="269" x2="35.099999999999994" y2="322" stroke="#a8a8a8" stroke-width="0.6"/>
<polyline points="35.0,40.6 50.0,40.6 60.0,40.9 70.0,40.4 80.0,40.3 85.0,40.8 87.5,42.3 89.2,45.5 90.2,52.0 90.8,66.0 91.3,89.2 92.2,68.0 93.1,51.6 93.7,64.0 94.3,86.0 95.0,64.0 95.6,49.0 96.5,45.0 98.3,43.0 102.6,40.8 110.0,40.3 120.0,40.6 130.0,40.2 140.0,40.6 150.0,40.3 156.5,40.3 160.4,41.6 161.5,42.2 162.5,41.4 164.2,41.4 165.3,42.9 165.9,50.0 166.4,63.4 166.9,52.0 167.2,47.1 168.5,43.3 170.2,41.9 171.8,41.9 178.4,41.4 183.8,41.4 187.1,42.7 190.3,41.6 193.6,40.8 198.0,41.1 200.7,40.3" fill="none" stroke="#7a7a7a" stroke-width="0.8" stroke-linejoin="round"/>
<polyline points="35.9,100.9 50.0,100.8 70.0,100.6 85.9,101.0 87.4,105.6 87.9,114.0 88.4,123.5 89.0,135.1 89.5,128.0 90.0,138.0 90.6,147.3 91.1,126.7 92.7,123.0 93.7,121.9 94.3,116.6 94.8,116.1 95.3,122.5 95.8,107.7 96.9,102.9 99.5,101.3 110.0,100.3 115.0,100.0 129.5,99.5 140.0,100.0 148.6,100.0 150.5,102.7 151.4,108.2 153.2,104.5 158.6,102.7 163.2,101.0 164.5,101.8 165.5,111.8 166.5,123.6 167.4,108.2 168.3,105.5 169.5,111.8 170.5,133.6 171.4,108.2 173.2,104.5 179.5,105.5 180.8,113.6 182.3,107.3 187.7,106.4 189.5,110.9 190.5,104.5 191.4,110.9 193.2,103.6 196.0,102.7 197.7,108.2 199.0,102.7 200.0,102.7" fill="none" stroke="#8fceb0" stroke-width="0.8" stroke-linejoin="round"/>
<polyline points="35.9,157.7 60.0,158.0 87.7,159.5 90.0,157.5 91.4,155.5 93.0,158.5 95.0,158.0 105.0,159.5 115.0,158.6 120.5,157.7 124.1,161.0 129.5,159.5 131.0,155.9 132.3,158.6 135.0,159.5 136.8,161.4 138.6,158.6 141.4,159.2 144.1,158.6 150.5,160.5 152.3,165.0 153.7,197.7 155.0,168.6 157.7,163.2 162.6,161.4 164.1,165.9 165.9,164.1 167.7,165.0 169.5,174.1 171.0,166.8 172.8,169.5 173.5,177.7 174.6,168.6 176.8,181.4 178.3,197.7 180.1,173.2 182.6,172.3 184.1,181.4 185.9,199.5 187.7,178.6 189.5,190.5 190.5,177.7 193.2,174.1 195.0,172.3 197.7,184.1 199.0,175.0 201.4,176.8 203.2,174.1 204.1,181.4 205.0,203.2 206.8,183.2 209.5,180.5 212.3,182.3 215.8,187.0 216.9,188.8" fill="none" stroke="#c8a2ea" stroke-width="0.8" stroke-linejoin="round"/>
<circle cx="216.9" cy="188.6" r="1.2" fill="#c8a2ea"/>
<polyline points="35.9,212.4 52.3,213.1 61.4,214.5 70.5,216.7 80.0,216.5 87.6,217.2 90.2,219.0 92.7,220.3 94.5,231.7 95.8,225.4 97.8,222.8 99.1,227.9 100.4,219.0 105.4,217.7 110.5,219.8 118.2,219.0 127.1,218.2 129.6,222.8 136.0,221.5 137.3,212.6 138.0,224.1 139.0,216.5 141.1,221.5 143.6,220.3 144.9,224.1 146.2,219.0 148.2,222.8 149.2,220.3 153.8,223.3 157.6,225.4 160.2,229.2 160.9,236.8 162.7,231.7 166.5,233.0 168.5,236.8 169.6,233.0 173.6,234.3 174.7,243.2 176.2,249.5 177.2,240.6 180.5,240.6 184.3,241.9 188.1,244.4 192.0,250.8 195.8,253.3 199.6,257.2 202.1,258.4 206.0,257.2 208.5,259.7 211.0,259.7 212.3,261.5" fill="none" stroke="#78b898" stroke-width="0.8" stroke-linejoin="round"/>
<polyline points="35.9,270.0 52.3,270.0 61.4,271.8 68.6,276.4 71.4,283.6 73.2,296.4 74.1,303.6 75.5,296.4 78.6,280.0 82.3,277.3 85.9,282.7 87.7,278.2 89.5,275.5 91.4,277.3 92.6,287.3 93.7,301.8 95.0,294.5 96.5,288.2 97.7,294.5 99.2,283.6 101.4,275.5 106.8,272.7 115.9,271.3 125.0,270.9 133.2,270.5 138.6,271.3 158.6,270.9 161.4,273.6 162.6,280.0 163.7,296.4 165.0,320.0 166.3,310.9 167.7,297.3 169.2,305.5 170.5,320.9 171.7,309.1 173.2,297.3 174.6,305.5 175.9,302.7 177.7,299.1 179.5,301.8 182.3,295.5 185.0,303.6 186.8,299.1 188.6,294.5 189.9,298.2 191.0,293.6 192.6,283.5 195.2,286.1 197.8,280.9 200.4,281.8 203.0,284.4 206.4,278.3 209.0,280.0 211.6,287.0 214.2,298.2 215.9,305.1 217.3,312.9 218.5,308.5 219.7,306.0" fill="none" stroke="#7c7c7c" stroke-width="0.8" stroke-linejoin="round"/>
<line x1="35.5" y1="324.4" x2="233" y2="324.4" stroke="#a0a0a0" stroke-width="0.7"/>
<text x="37" y="328.4" font-family='"Liberation Sans", sans-serif' font-size="3.2" font-weight="normal" fill="#8a8a8a" text-anchor="middle" >4000</text>
<text x="63" y="328.4" font-family='"Liberation Sans", sans-serif' font-size="3.2" font-weight="normal" fill="#8a8a8a" text-anchor="middle" >3500</text>
<text x="90" y="328.4" font-family='"Liberation Sans", sans-serif' font-size="3.2" font-weight="normal" fill="#8a8a8a" text-anchor="middle" >3000</text>
<text x="117" y="328.4" font-family='"Liberation Sans", sans-serif' font-size="3.2" font-weight="normal" fill="#8a8a8a" text-anchor="middle" >2500</text>
<text x="145" y="328.4" font-family='"Liberation Sans", sans-serif' font-size="3.2" font-weight="normal" fill="#8a8a8a" text-anchor="middle" >2000</text>
<text x="172" y="328.4" font-family='"Liberation Sans", sans-serif' font-size="3.2" font-weight="normal" fill="#8a8a8a" text-anchor="middle" >1500</text>
<text x="199.5" y="328.4" font-family='"Liberation Sans", sans-serif' font-size="3.2" font-weight="normal" fill="#8a8a8a" text-anchor="middle" >1000</text>
<text x="229.5" y="328.4" font-family='"Liberation Sans", sans-serif' font-size="3.2" font-weight="normal" fill="#8a8a8a" text-anchor="middle" >400,000</text>
<text x="43.3" y="86.5" font-family='"Liberation Sans", sans-serif' font-size="14.4" font-weight="normal" fill="#151515" text-anchor="start" textLength="14.3" lengthAdjust="spacingAndGlyphs" stroke="#151515" stroke-width="0.15" >PE</text>
<text x="43.2" y="140.9" font-family='"Liberation Sans", sans-serif' font-size="14.4" font-weight="normal" fill="#151515" text-anchor="start" textLength="14.7" lengthAdjust="spacingAndGlyphs" stroke="#151515" stroke-width="0.15" >PP</text>
<text x="42.6" y="194.3" font-family='"Liberation Sans", sans-serif' font-size="14.4" font-weight="normal" fill="#151515" text-anchor="start" textLength="22.7" lengthAdjust="spacingAndGlyphs" stroke="#151515" stroke-width="0.15" >PET</text>
<text x="43.2" y="255.7" font-family='"Liberation Sans", sans-serif' font-size="14.4" font-weight="normal" fill="#151515" text-anchor="start" textLength="14.5" lengthAdjust="spacingAndGlyphs" stroke="#151515" stroke-width="0.15" >PS</text>
<text x="41.8" y="318.7" font-family='"Liberation Sans", sans-serif' font-size="13.8" font-weight="normal" fill="#151515" text-anchor="start" textLength="44.6" lengthAdjust="spacingAndGlyphs" stroke="#151515" stroke-width="0.15" >NYLON</text>
<g transform="translate(25.3,225.3) rotate(-90)"><text x="0" y="0" font-family='"Liberation Sans", sans-serif' font-size="14.5" fill="#111" textLength="13" lengthAdjust="spacingAndGlyphs" stroke="#111" stroke-width="0.15">%</text><text x="19.3" y="0" font-family='"Liberation Sans", sans-serif' font-size="11" fill="#1a1a1a" textLength="76" lengthAdjust="spacingAndGlyphs">TRANSMITTANCE</text></g>
<text x="91.6" y="340.4" font-family='"Liberation Sans", sans-serif' font-size="10.6" fill="#1a1a1a" textLength="96" lengthAdjust="spacingAndGlyphs">WAVELENGHT (<tspan font-size="8">CM</tspan>-1)</text>
<line x1="232.2" y1="41.4" x2="232.2" y2="89.8" stroke="#a0a0a0" stroke-width="0.5"/>
<line x1="232.2" y1="89.8" x2="279" y2="89.8" stroke="#a0a0a0" stroke-width="0.5"/>
<rect x="228.2" y="41.0" width="2.4" height="0.8" fill="#c4c4c4"/>
<rect x="228.2" y="46.4" width="2.4" height="0.8" fill="#c4c4c4"/>
<rect x="228.2" y="51.8" width="2.4" height="0.8" fill="#c4c4c4"/>
<rect x="228.2" y="57.1" width="2.4" height="0.8" fill="#c4c4c4"/>
<rect x="228.2" y="62.5" width="2.4" height="0.8" fill="#c4c4c4"/>
<rect x="228.2" y="67.9" width="2.4" height="0.8" fill="#c4c4c4"/>
<rect x="228.2" y="73.3" width="2.4" height="0.8" fill="#c4c4c4"/>
<rect x="228.2" y="78.6" width="2.4" height="0.8" fill="#c4c4c4"/>
<rect x="228.2" y="84.0" width="2.4" height="0.8" fill="#c4c4c4"/>
<rect x="228.2" y="89.4" width="2.4" height="0.8" fill="#c4c4c4"/>
<rect x="231.0" y="91.3" width="2.4" height="0.8" fill="#c4c4c4"/>
<rect x="236.2" y="91.3" width="2.4" height="0.8" fill="#c4c4c4"/>
<rect x="241.4" y="91.3" width="2.4" height="0.8" fill="#c4c4c4"/>
<rect x="246.6" y="91.3" width="2.4" height="0.8" fill="#c4c4c4"/>
<rect x="251.8" y="91.3" width="2.4" height="0.8" fill="#c4c4c4"/>
<rect x="257.0" y="91.3" width="2.4" height="0.8" fill="#c4c4c4"/>
<rect x="262.2" y="91.3" width="2.4" height="0.8" fill="#c4c4c4"/>
<rect x="267.4" y="91.3" width="2.4" height="0.8" fill="#c4c4c4"/>
<rect x="272.6" y="91.3" width="2.4" height="0.8" fill="#c4c4c4"/>
<rect x="277.8" y="91.3" width="2.4" height="0.8" fill="#c4c4c4"/>
<rect x="250.9" y="93.3" width="6" height="0.7" fill="#cfcfcf"/>
<text x="243" y="85.8" font-family='"Liberation Sans", sans-serif' font-size="4.9" font-weight="normal" fill="#1c1c1c" text-anchor="start" textLength="29.8" lengthAdjust="spacingAndGlyphs" stroke="#1c1c1c" stroke-width="0.12" >1000x1000µm</text>
<path d="M252.3,48.9 L259.2,48.5 L262.3,52 L263.4,57.3 L264.6,62 L265.3,65.8 L264.2,70.4 L261.5,74.2 L257.7,75.8 L255.3,76.5 L251.5,73.5 L247.7,69.6 L246.5,63.5 L246.9,58.9 L249.2,53.5 Z" fill="url(#blob)" stroke="#3a2b45" stroke-width="0.8" stroke-linejoin="round"/>
<ellipse cx="253" cy="56" rx="3" ry="4" fill="#5a4868" opacity="0.3"/>
<ellipse cx="260.5" cy="62" rx="2" ry="3" fill="#594766" opacity="0.3"/>
<ellipse cx="255" cy="68" rx="3.5" ry="3" fill="#150c1a" opacity="0.4"/>
<path d="M254,75.5 C256,77.5 258,77.8 259.5,76.5" fill="none" stroke="#c9bccb" stroke-width="1"/>
<line x1="231.8" y1="100.8" x2="231.8" y2="145.1" stroke="#a0a0a0" stroke-width="0.5"/>
<line x1="231.8" y1="145.1" x2="276.8" y2="145.1" stroke="#a0a0a0" stroke-width="0.5"/>
<rect x="227.8" y="100.4" width="2.4" height="0.8" fill="#c4c4c4"/>
<rect x="227.8" y="105.3" width="2.4" height="0.8" fill="#c4c4c4"/>
<rect x="227.8" y="110.2" width="2.4" height="0.8" fill="#c4c4c4"/>
<rect x="227.8" y="115.2" width="2.4" height="0.8" fill="#c4c4c4"/>
<rect x="227.8" y="120.1" width="2.4" height="0.8" fill="#c4c4c4"/>
<rect x="227.8" y="125.0" width="2.4" height="0.8" fill="#c4c4c4"/>
<rect x="227.8" y="129.9" width="2.4" height="0.8" fill="#c4c4c4"/>
<rect x="227.8" y="134.9" width="2.4" height="0.8" fill="#c4c4c4"/>
<rect x="227.8" y="139.8" width="2.4" height="0.8" fill="#c4c4c4"/>
<rect x="227.8" y="144.7" width="2.4" height="0.8" fill="#c4c4c4"/>
<rect x="230.6" y="146.6" width="2.4" height="0.8" fill="#c4c4c4"/>
<rect x="235.6" y="146.6" width="2.4" height="0.8" fill="#c4c4c4"/>
<rect x="240.6" y="146.6" width="2.4" height="0.8" fill="#c4c4c4"/>
<rect x="245.6" y="146.6" width="2.4" height="0.8" fill="#c4c4c4"/>
<rect x="250.6" y="146.6" width="2.4" height="0.8" fill="#c4c4c4"/>
<rect x="255.6" y="146.6" width="2.4" height="0.8" fill="#c4c4c4"/>
<rect x="260.6" y="146.6" width="2.4" height="0.8" fill="#c4c4c4"/>
<rect x="265.6" y="146.6" width="2.4" height="0.8" fill="#c4c4c4"/>
<rect x="270.6" y="146.6" width="2.4" height="0.8" fill="#c4c4c4"/>
<rect x="275.6" y="146.6" width="2.4" height="0.8" fill="#c4c4c4"/>
<rect x="249.8" y="148.6" width="6" height="0.7" fill="#cfcfcf"/>
<text x="243.2" y="140.4" font-family='"Liberation Sans", sans-serif' font-size="4.9" font-weight="normal" fill="#1c1c1c" text-anchor="start" textLength="29.6" lengthAdjust="spacingAndGlyphs" stroke="#1c1c1c" stroke-width="0.12" >1000x1000µm</text>
<ellipse cx="253.9" cy="122.9" rx="1.2" ry="2.6" fill="#6a1020"/>
<line x1="232.2" y1="162.8" x2="232.2" y2="203.5" stroke="#a0a0a0" stroke-width="0.5"/>
<line x1="232.2" y1="203.5" x2="274.8" y2="203.5" stroke="#a0a0a0" stroke-width="0.5"/>
<rect x="228.2" y="162.4" width="2.4" height="0.8" fill="#c4c4c4"/>
<rect x="228.2" y="166.9" width="2.4" height="0.8" fill="#c4c4c4"/>
<rect x="228.2" y="171.4" width="2.4" height="0.8" fill="#c4c4c4"/>
<rect x="228.2" y="176.0" width="2.4" height="0.8" fill="#c4c4c4"/>
<rect x="228.2" y="180.5" width="2.4" height="0.8" fill="#c4c4c4"/>
<rect x="228.2" y="185.0" width="2.4" height="0.8" fill="#c4c4c4"/>
<rect x="228.2" y="189.5" width="2.4" height="0.8" fill="#c4c4c4"/>
<rect x="228.2" y="194.1" width="2.4" height="0.8" fill="#c4c4c4"/>
<rect x="228.2" y="198.6" width="2.4" height="0.8" fill="#c4c4c4"/>
<rect x="228.2" y="203.1" width="2.4" height="0.8" fill="#c4c4c4"/>
<rect x="231.0" y="205.0" width="2.4" height="0.8" fill="#c4c4c4"/>
<rect x="235.7" y="205.0" width="2.4" height="0.8" fill="#c4c4c4"/>
<rect x="240.5" y="205.0" width="2.4" height="0.8" fill="#c4c4c4"/>
<rect x="245.2" y="205.0" width="2.4" height="0.8" fill="#c4c4c4"/>
<rect x="249.9" y="205.0" width="2.4" height="0.8" fill="#c4c4c4"/>
<rect x="254.7" y="205.0" width="2.4" height="0.8" fill="#c4c4c4"/>
<rect x="259.4" y="205.0" width="2.4" height="0.8" fill="#c4c4c4"/>
<rect x="264.1" y="205.0" width="2.4" height="0.8" fill="#c4c4c4"/>
<rect x="268.9" y="205.0" width="2.4" height="0.8" fill="#c4c4c4"/>
<rect x="273.6" y="205.0" width="2.4" height="0.8" fill="#c4c4c4"/>
<rect x="249.2" y="207.0" width="6" height="0.7" fill="#cfcfcf"/>
<text x="256" y="172.2" font-family='"Liberation Sans", sans-serif' font-size="4.9" font-weight="normal" fill="#1c1c1c" text-anchor="start" textLength="29" lengthAdjust="spacingAndGlyphs" stroke="#1c1c1c" stroke-width="0.12" >2000x2000µm</text>
<path d="M245.5,162.8 C249,172 252,180 254,188 L257.9,202.6" fill="none" stroke="#141014" stroke-width="3.3"/>
<line x1="233.1" y1="214.4" x2="233.1" y2="257.4" stroke="#a0a0a0" stroke-width="0.5"/>
<line x1="233.1" y1="257.4" x2="276.8" y2="257.4" stroke="#a0a0a0" stroke-width="0.5"/>
<rect x="229.1" y="214.0" width="2.4" height="0.8" fill="#c4c4c4"/>
<rect x="229.1" y="218.8" width="2.4" height="0.8" fill="#c4c4c4"/>
<rect x="229.1" y="223.6" width="2.4" height="0.8" fill="#c4c4c4"/>
<rect x="229.1" y="228.3" width="2.4" height="0.8" fill="#c4c4c4"/>
<rect x="229.1" y="233.1" width="2.4" height="0.8" fill="#c4c4c4"/>
<rect x="229.1" y="237.9" width="2.4" height="0.8" fill="#c4c4c4"/>
<rect x="229.1" y="242.7" width="2.4" height="0.8" fill="#c4c4c4"/>
<rect x="229.1" y="247.4" width="2.4" height="0.8" fill="#c4c4c4"/>
<rect x="229.1" y="252.2" width="2.4" height="0.8" fill="#c4c4c4"/>
<rect x="229.1" y="257.0" width="2.4" height="0.8" fill="#c4c4c4"/>
<rect x="231.9" y="258.9" width="2.4" height="0.8" fill="#c4c4c4"/>
<rect x="236.8" y="258.9" width="2.4" height="0.8" fill="#c4c4c4"/>
<rect x="241.6" y="258.9" width="2.4" height="0.8" fill="#c4c4c4"/>
<rect x="246.5" y="258.9" width="2.4" height="0.8" fill="#c4c4c4"/>
<rect x="251.3" y="258.9" width="2.4" height="0.8" fill="#c4c4c4"/>
<rect x="256.2" y="258.9" width="2.4" height="0.8" fill="#c4c4c4"/>
<rect x="261.0" y="258.9" width="2.4" height="0.8" fill="#c4c4c4"/>
<rect x="265.9" y="258.9" width="2.4" height="0.8" fill="#c4c4c4"/>
<rect x="270.7" y="258.9" width="2.4" height="0.8" fill="#c4c4c4"/>
<rect x="275.6" y="258.9" width="2.4" height="0.8" fill="#c4c4c4"/>
<rect x="250.6" y="260.9" width="6" height="0.7" fill="#cfcfcf"/>
<text x="239.9" y="252" font-family='"Liberation Sans", sans-serif' font-size="4.9" font-weight="normal" fill="#1c1c1c" text-anchor="start" textLength="30.2" lengthAdjust="spacingAndGlyphs" stroke="#1c1c1c" stroke-width="0.12" >2000x2000µm</text>
<path d="M244.2,226.9 L251,230.1 L257,234.3 L265.6,241 L266.2,242.6 L265,243.4 L256,238.2 L250,233.6 L245,228.4 Z" fill="#4a4ac4" stroke="#4040b8" stroke-width="0.4" stroke-linejoin="round"/>
<path d="M247,229 L264.5,242" stroke="#2a2aa0" stroke-width="0.9"/>
<path d="M247.8,233 L250.4,234.2" stroke="#c8c8d8" stroke-width="0.6"/>
<line x1="234.6" y1="272.3" x2="234.6" y2="315.8" stroke="#a0a0a0" stroke-width="0.5"/>
<line x1="234.6" y1="315.8" x2="276.4" y2="315.8" stroke="#a0a0a0" stroke-width="0.5"/>
<rect x="230.6" y="271.9" width="2.4" height="0.8" fill="#c4c4c4"/>
<rect x="230.6" y="276.7" width="2.4" height="0.8" fill="#c4c4c4"/>
<rect x="230.6" y="281.6" width="2.4" height="0.8" fill="#c4c4c4"/>
<rect x="230.6" y="286.4" width="2.4" height="0.8" fill="#c4c4c4"/>
<rect x="230.6" y="291.2" width="2.4" height="0.8" fill="#c4c4c4"/>
<rect x="230.6" y="296.1" width="2.4" height="0.8" fill="#c4c4c4"/>
<rect x="230.6" y="300.9" width="2.4" height="0.8" fill="#c4c4c4"/>
<rect x="230.6" y="305.7" width="2.4" height="0.8" fill="#c4c4c4"/>
<rect x="230.6" y="310.6" width="2.4" height="0.8" fill="#c4c4c4"/>
<rect x="230.6" y="315.4" width="2.4" height="0.8" fill="#c4c4c4"/>
<rect x="233.4" y="317.3" width="2.4" height="0.8" fill="#c4c4c4"/>
<rect x="238.0" y="317.3" width="2.4" height="0.8" fill="#c4c4c4"/>
<rect x="242.7" y="317.3" width="2.4" height="0.8" fill="#c4c4c4"/>
<rect x="247.3" y="317.3" width="2.4" height="0.8" fill="#c4c4c4"/>
<rect x="252.0" y="317.3" width="2.4" height="0.8" fill="#c4c4c4"/>
<rect x="256.6" y="317.3" width="2.4" height="0.8" fill="#c4c4c4"/>
<rect x="261.3" y="317.3" width="2.4" height="0.8" fill="#c4c4c4"/>
<rect x="265.9" y="317.3" width="2.4" height="0.8" fill="#c4c4c4"/>
<rect x="270.6" y="317.3" width="2.4" height="0.8" fill="#c4c4c4"/>
<rect x="275.2" y="317.3" width="2.4" height="0.8" fill="#c4c4c4"/>
<rect x="251.3" y="319.3" width="6" height="0.7" fill="#cfcfcf"/>
<text x="242.7" y="310.3" font-family='"Liberation Sans", sans-serif' font-size="4.9" font-weight="normal" fill="#1c1c1c" text-anchor="start" textLength="29.9" lengthAdjust="spacingAndGlyphs" stroke="#1c1c1c" stroke-width="0.12" >5000x5000µm</text>
<path d="M244.2,300.9 C248,296 252,293.5 256.6,292.4 C261,291.2 264,290.9 267.7,290.6" fill="none" stroke="#6a5c5c" stroke-width="0.7"/></svg>
</body></html>
